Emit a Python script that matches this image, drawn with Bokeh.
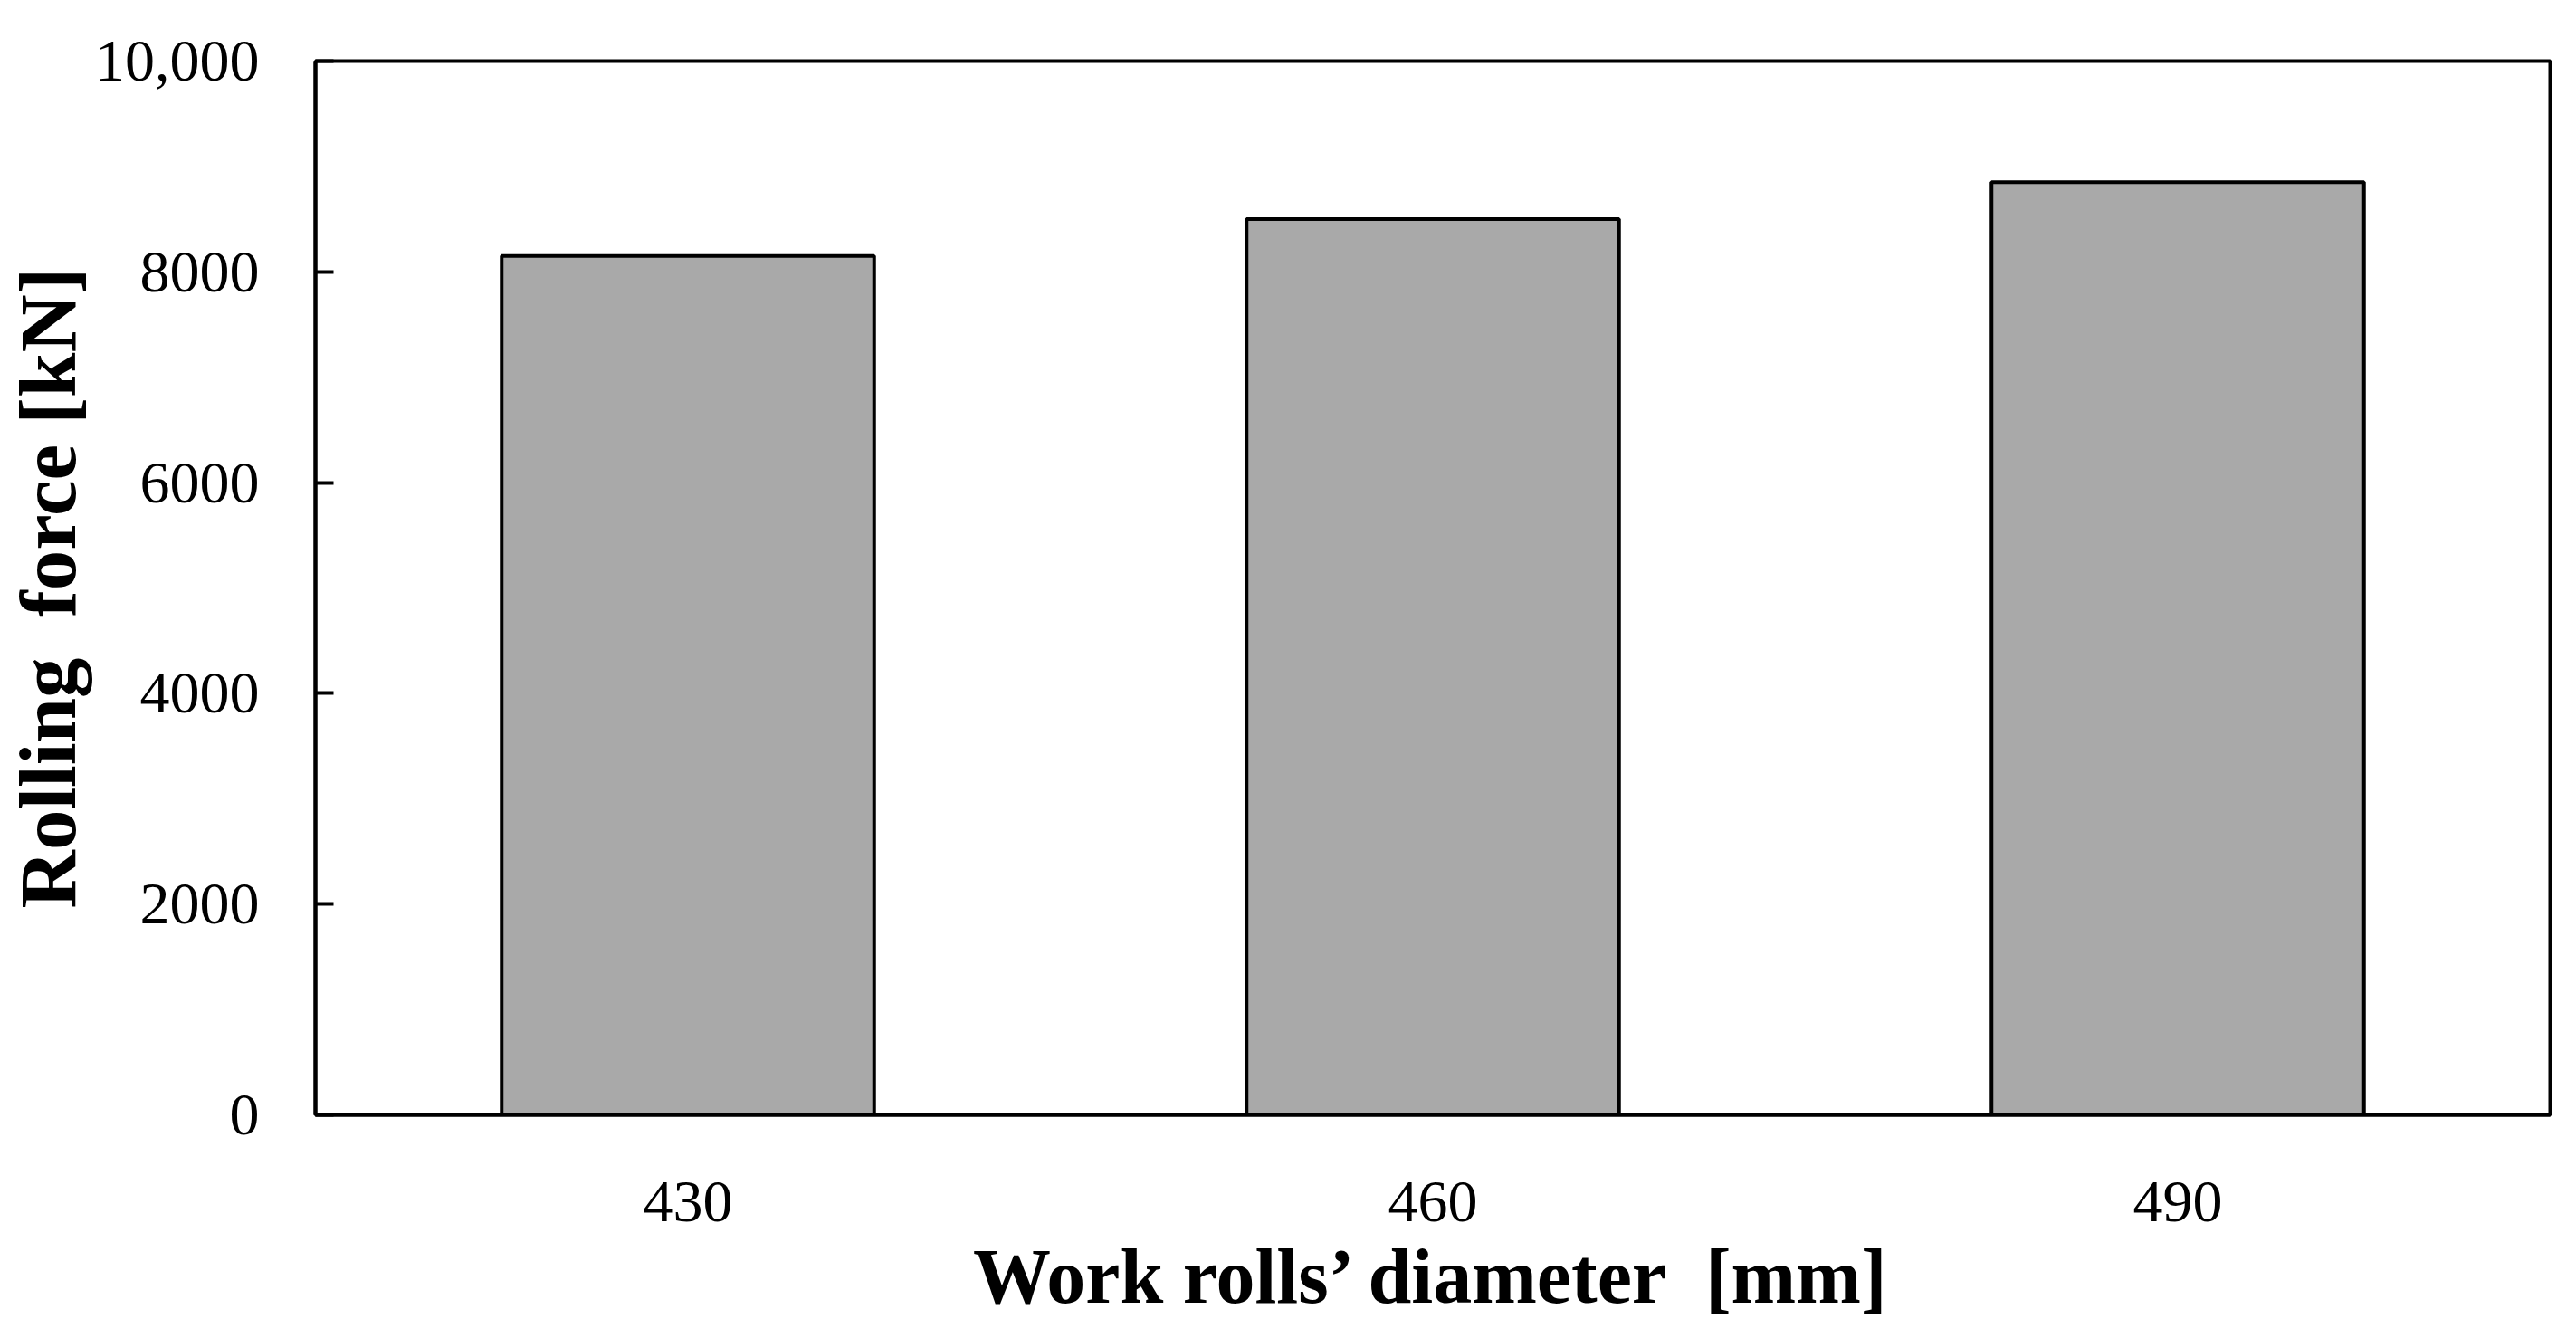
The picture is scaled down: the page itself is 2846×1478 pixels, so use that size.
from bokeh.plotting import figure
from bokeh.models import Range1d, FixedTicker
from bokeh.embed import file_html
from bokeh.resources import INLINE

# data
diameters = ["430", "460", "490"]
forces = [8150, 8500, 8850]
y_ticks = [0, 2000, 4000, 6000, 8000, 10000]
y_tick_labels = ["0", "2000", "4000", "6000", "8000", "10,000"]
x_title = "Work rolls\u2019 diameter\u00a0 [mm]"
y_title = "Rolling\u00a0 force [kN]"

FONT = "Liberation Serif"

p = figure(x_range=diameters, y_range=Range1d(0, 10000),
           width=2830, height=1462, output_backend="svg",
           toolbar_location=None, min_border_left=345, min_border_right=13,
           min_border_top=67, min_border_bottom=231)

p.vbar(x=diameters, top=forces, width=0.5, fill_color="#a9a9a9",
       line_color="black", line_width=4)

p.xgrid.visible = False
p.ygrid.visible = False
p.outline_line_color = "black"
p.outline_line_width = 4
p.outline_line_alpha = 1.0

# y axis
p.yaxis.ticker = FixedTicker(ticks=y_ticks)
p.yaxis.major_label_overrides = {t: l for t, l in zip(y_ticks, y_tick_labels)}
p.yaxis.minor_tick_line_color = None
p.yaxis.major_tick_in = 20
p.yaxis.major_tick_out = 0
p.yaxis.major_tick_line_width = 4
p.yaxis.axis_line_width = 4
p.yaxis.major_label_text_font = FONT
p.yaxis.major_label_text_font_size = "66px"
p.yaxis.major_label_standoff = 62
p.yaxis.axis_label = y_title
p.yaxis.axis_label_text_font = FONT
p.yaxis.axis_label_text_font_style = "bold"
p.yaxis.axis_label_text_font_size = "89px"
p.yaxis.axis_label_standoff = 0

# x axis
p.xaxis.major_tick_line_color = None
p.xaxis.minor_tick_line_color = None
p.xaxis.axis_line_width = 4
p.xaxis.major_label_text_font = FONT
p.xaxis.major_label_text_font_size = "66px"
p.xaxis.major_label_standoff = 68
p.xaxis.axis_label = x_title
p.xaxis.axis_label_text_font = FONT
p.xaxis.axis_label_text_font_style = "bold"
p.xaxis.axis_label_text_font_size = "86px"
p.xaxis.axis_label_standoff = 10

for ax in (p.xaxis, p.yaxis):
    ax.major_label_text_color = "black"
    ax.axis_label_text_color = "black"
    ax.axis_line_color = "black"

open("out.html", "w").write(file_html(p, INLINE))
